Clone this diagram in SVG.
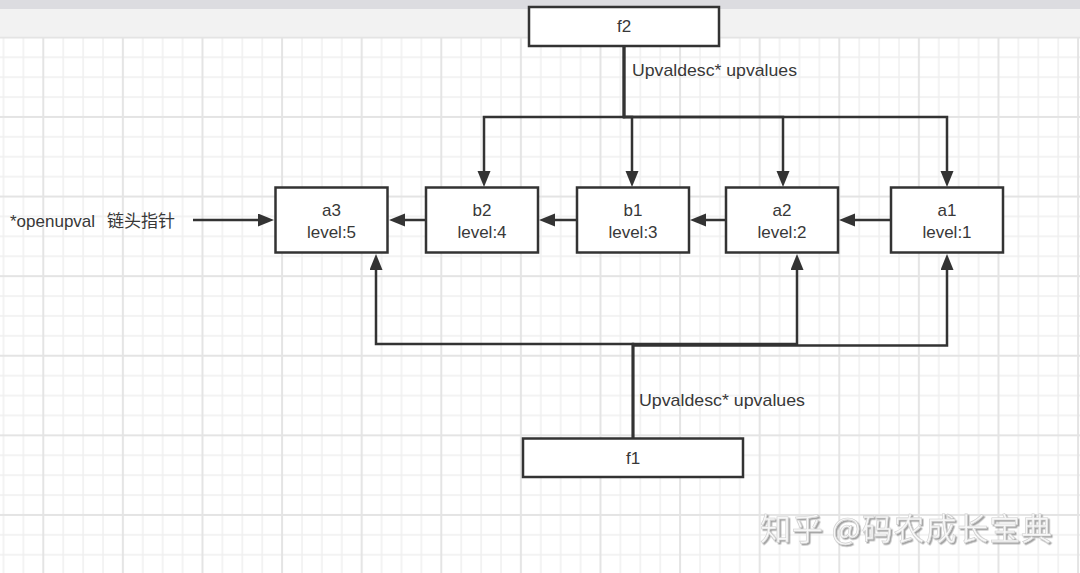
<svg xmlns="http://www.w3.org/2000/svg" width="1080" height="573" viewBox="0 0 1080 573">
<style>
.box{fill:#fff;stroke:#333;stroke-width:2.5}
.t{font-family:"Liberation Sans","Noto Sans CJK SC",Arial,sans-serif;font-size:17px;fill:#383838}
.c{text-anchor:middle}
.edge{fill:none;stroke:#333;stroke-width:2.5;stroke-linejoin:miter}
.arr{marker-end:url(#ah)}
.minor{stroke:#efefef;stroke-width:1.5}
.major{stroke:#e4e4e4;stroke-width:2}
.wm{font-family:"Noto Sans CJK SC","Liberation Sans",sans-serif;font-size:31px;fill:#f7f7f7;stroke:#cfcfcf;stroke-width:0.6}
</style>
<defs>
<pattern id="grid" patternUnits="userSpaceOnUse" x="-6.5" y="-12.4" width="79.6" height="79.6">
<line class="minor" x1="10" y1="0" x2="10" y2="79.6"/>
<line class="minor" x1="29.9" y1="0" x2="29.9" y2="79.6"/>
<line class="minor" x1="69.7" y1="0" x2="69.7" y2="79.6"/>
<line class="minor" x1="0" y1="10" x2="79.6" y2="10"/>
<line class="minor" x1="0" y1="29.9" x2="79.6" y2="29.9"/>
<line class="minor" x1="0" y1="69.7" x2="79.6" y2="69.7"/>
<line class="major" x1="49.8" y1="0" x2="49.8" y2="79.6"/>
<line class="major" x1="0" y1="49.8" x2="79.6" y2="49.8"/>
</pattern>
<marker id="ah" markerUnits="userSpaceOnUse" markerWidth="17" markerHeight="14" refX="0" refY="6.5" orient="auto">
<path d="M0,0 L16,6.5 L0,13 z" fill="#333"/>
</marker>
<filter id="emb" x="-5%" y="-20%" width="110%" height="140%">
<feDropShadow dx="1.5" dy="1.5" stdDeviation="0.6" flood-color="#8a8a8a" flood-opacity="0.8"/>
</filter>
</defs>

<g id="background">
<rect x="0" y="0" width="1080" height="573" fill="#fff"/>
<rect x="0" y="37" width="1080" height="536" fill="url(#grid)"/>
<rect x="0" y="0" width="1080" height="37" fill="#f2f2f2"/>
<rect x="0" y="0" width="1080" height="9" fill="#dcdce0"/>
<line x1="0" y1="37.4" x2="1080" y2="37.4" stroke="#e4e4e4" stroke-width="1.5"/>
</g>

<g id="connectors">
<path class="edge arr" d="M624 46 V117 H484 V171"/>
<path class="edge arr" d="M624 46 V117 H632 V171"/>
<path class="edge arr" d="M624 46 V117 H783 V171"/>
<path class="edge arr" d="M624 46 V117 H947 V171"/>
<path class="edge arr" d="M633 438 V344 H376 V270"/>
<path class="edge arr" d="M633 438 V344 H797 V270"/>
<path class="edge arr" d="M633 438 V345.5 H947 V270"/>
<path class="edge arr" d="M891 220 H855"/>
<path class="edge arr" d="M726 220 H706"/>
<path class="edge arr" d="M577 220 H555"/>
<path class="edge arr" d="M426 220 H405"/>
<path class="edge arr" d="M193 220 H258"/>
<text class="t" x="632" y="76" textLength="165" lengthAdjust="spacingAndGlyphs">Upvaldesc* upvalues</text>
<text class="t" x="639" y="406" textLength="166" lengthAdjust="spacingAndGlyphs">Upvaldesc* upvalues</text>
</g>

<g id="f2"><rect class="box" x="529" y="7" width="190" height="39"/><text class="t c" x="624" y="32">f2</text></g>
<g id="f1"><rect class="box" x="523" y="438.5" width="220" height="38.5"/><text class="t c" x="633" y="464">f1</text></g>

<g id="a3"><rect class="box" x="275.5" y="187.5" width="112" height="65"/><text class="t c" x="331.5" y="216">a3</text><text class="t c" x="331.5" y="238">level:5</text></g>
<g id="b2"><rect class="box" x="426" y="187.5" width="112" height="65"/><text class="t c" x="482" y="216">b2</text><text class="t c" x="482" y="238">level:4</text></g>
<g id="b1"><rect class="box" x="577" y="187.5" width="112" height="65"/><text class="t c" x="633" y="216">b1</text><text class="t c" x="633" y="238">level:3</text></g>
<g id="a2"><rect class="box" x="726" y="187.5" width="112" height="65"/><text class="t c" x="782" y="216">a2</text><text class="t c" x="782" y="238">level:2</text></g>
<g id="a1"><rect class="box" x="891" y="187.5" width="112" height="65"/><text class="t c" x="947" y="216">a1</text><text class="t c" x="947" y="238">level:1</text></g>

<g id="pointer-label"><text class="t" x="10" y="227">*openupval<tspan x="107">链头指针</tspan></text></g>

<g id="watermark"><text class="wm" x="760" y="540" textLength="292" lengthAdjust="spacing" filter="url(#emb)">知乎 @码农成长宝典</text></g>
</svg>
